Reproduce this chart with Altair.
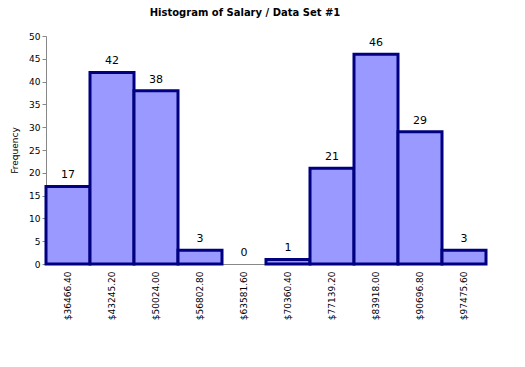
import altair as alt
import pandas as pd

bins = ["$36466.40", "$43245.20", "$50024.00", "$56802.80", "$63581.60",
        "$70360.40", "$77139.20", "$83918.00", "$90696.80", "$97475.60"]
counts = [17, 42, 38, 3, 0, 1, 21, 46, 29, 3]

df = pd.DataFrame({"bin": bins, "count": counts})

xenc = alt.X("bin:N", sort=bins, title=None,
             scale=alt.Scale(paddingInner=0, paddingOuter=0),
             axis=alt.Axis(labelAngle=270, labelAlign="right", labelBaseline="middle",
                           labelFont="DejaVu Sans", labelFontSize=9, labelColor="black",
                           labelPadding=7, ticks=False, domainColor="#888888",
                           labelOverlap=False))
yenc = alt.Y("count:Q", title="Frequency",
             scale=alt.Scale(domain=[0, 50], nice=False),
             axis=alt.Axis(values=list(range(0, 51, 5)), grid=False, tickSize=4,
                           tickColor="#888888", domainColor="#888888",
                           labelFont="DejaVu Sans", labelFontSize=9, labelColor="black",
                           labelOverlap=False,
                           titleFont="DejaVu Sans", titleFontSize=9, titleFontWeight="normal",
                           titleColor="black", titlePadding=9))

bars = alt.Chart(df).transform_filter("datum.count > 0").mark_bar(
    color="#9999FF", stroke="#000080", strokeWidth=3).encode(x=xenc, y=yenc)
labels = alt.Chart(df).mark_text(baseline="bottom", dy=-6, font="DejaVu Sans",
                                 fontSize=11, color="black").encode(
    x=xenc, y=yenc, text="count:Q")

chart = (bars + labels).properties(
    width=440, height=228,
    title=alt.TitleParams("Histogram of Salary / Data Set #1", font="DejaVu Sans",
                          fontSize=10, fontWeight="bold", color="black", offset=14,
                          anchor="middle", dx=-21),
    autosize=alt.AutoSizeParams(type="none"),
    padding={"left": 46, "top": 36, "right": 39, "bottom": 103},
).configure_view(stroke=None)

chart.save("out.html", embed_options={"renderer": "svg", "actions": False})
